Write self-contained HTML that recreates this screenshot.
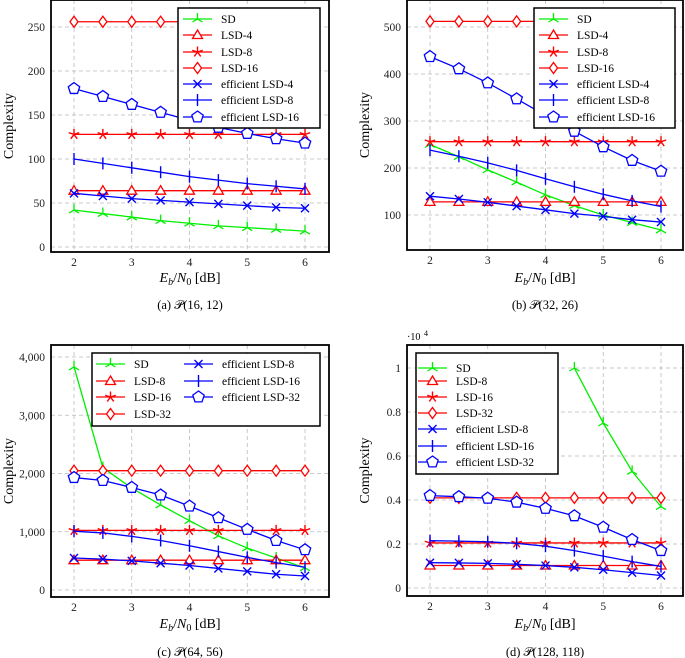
<!DOCTYPE html>
<html><head><meta charset="utf-8"><style>
html,body{margin:0;padding:0;background:#fff;}
svg{display:block;font-family:"Liberation Serif",serif;}
</style></head><body>
<svg id="fig" width="685" height="658" viewBox="0 0 685 658" xmlns="http://www.w3.org/2000/svg"></svg>
<script>
const xValues=[2,2.5,3,3.5,4,4.5,5,5.5,6];
const xTicks=[2,3,4,5,6];
// Panel a
const aSD=[42,38,34,30,27,24,22,20,18];
const aLSD4=[64,64,64,64,64,64,64,64,64];
const aLSD8=[128,128,128,128,128,128,128,128,128];
const aLSD16=[256,256,256,256,256,256,256,256,256];
const aELSD4=[61,58,55,53,51,49,47,45,44];
const aELSD8=[100,95,90,85,80,76,72,69,66];
const aELSD16=[180,171,162,153,144,136,129,123,118];
const aYTicks=[0,50,100,150,200,250];
const aYTickLabels=["0","50","100","150","200","250"];
// Panel b
const bSD=[250,224,196,170,143,120,100,84,68];
const bLSD4=[128,128,128,128,128,128,128,128,128];
const bLSD8=[256,256,256,256,256,256,256,256,256];
const bLSD16=[512,512,512,512,512,512,512,512,512];
const bELSD4=[140,134,127,119,111,103,97,90,85];
const bELSD8=[238,225,211,195,177,160,144,130,118];
const bELSD16=[437,411,381,347,312,278,245,216,193];
const bYTicks=[100,200,300,400,500];
const bYTickLabels=["100","200","300","400","500"];
// Panel c
const cSD=[3830,2100,1750,1460,1190,930,720,550,380];
const cLSD8=[512,512,512,512,512,512,512,512,512];
const cLSD16=[1024,1024,1024,1024,1024,1024,1024,1024,1024];
const cLSD32=[2048,2048,2048,2048,2048,2048,2048,2048,2048];
const cELSD8=[550,530,500,460,420,370,320,270,240];
const cELSD16=[1010,980,920,850,760,660,560,470,390];
const cELSD32=[1930,1880,1760,1630,1440,1240,1040,850,690];
const cYTicks=[0,1000,2000,3000,4000];
const cYTickLabels=["0","1,000","2,000","3,000","4,000"];
// Panel d (x10^4)
const dSD=[null,null,null,null,null,1.0,0.75,0.53,0.37];
const dLSD8=[0.1024,0.1024,0.1024,0.1024,0.1024,0.1024,0.1024,0.1024,0.1024];
const dLSD16=[0.2048,0.2048,0.2048,0.2048,0.2048,0.2048,0.2048,0.2048,0.2048];
const dLSD32=[0.4096,0.4096,0.4096,0.4096,0.4096,0.4096,0.4096,0.4096,0.4096];
const dELSD8=[0.115,0.114,0.112,0.108,0.102,0.094,0.083,0.07,0.057];
const dELSD16=[0.215,0.213,0.21,0.203,0.19,0.17,0.145,0.12,0.098];
const dELSD32=[0.42,0.415,0.408,0.39,0.362,0.328,0.276,0.22,0.17];
const dYTicks=[0,0.2,0.4,0.6,0.8,1];
const dYTickLabels=["0","0.2","0.4","0.6","0.8","1"];

const NS="http://www.w3.org/2000/svg";
const svg=document.getElementById('fig');
function mk(tag,attrs,parent){const e=document.createElementNS(NS,tag);for(const k in attrs)e.setAttribute(k,attrs[k]);(parent||svg).appendChild(e);return e;}
const G='#00ee00',R='#ff0000',B='#0000ff';

function marker(g,type,x,y,c){
  let m;
  if(type==='tri3'){m=mk('path',{d:`M${x},${y}V${y-6}M${x},${y}L${x-5},${y+3}M${x},${y}L${x+5},${y+3}`,stroke:c,'stroke-width':1.3,fill:'none'},g);}
  else if(type==='triangle'){m=mk('path',{d:`M${x},${y-5}L${x+5},${y+3.5}L${x-5},${y+3.5}Z`,stroke:c,'stroke-width':1.3,fill:'#fff'},g);}
  else if(type==='star'){let d='';for(let i=0;i<5;i++){const a=-Math.PI/2+i*2*Math.PI/5;d+=`M${x},${y}L${x+5.5*Math.cos(a)},${y+5.5*Math.sin(a)}`;}m=mk('path',{d,stroke:c,'stroke-width':1.4,fill:'none'},g);}
  else if(type==='diamond'){m=mk('path',{d:`M${x},${y-5.5}L${x+4},${y}L${x},${y+5.5}L${x-4},${y}Z`,stroke:c,'stroke-width':1.3,fill:'#fff'},g);}
  else if(type==='x'){m=mk('path',{d:`M${x-4},${y-4}L${x+4},${y+4}M${x-4},${y+4}L${x+4},${y-4}`,stroke:c,'stroke-width':1.4,fill:'none'},g);}
  else if(type==='plus'){m=mk('path',{d:`M${x},${y-6}V${y+6}`,stroke:c,'stroke-width':1.4,fill:'none'},g);}
  else if(type==='pent'){let d='';for(let i=0;i<5;i++){const a=-Math.PI/2+i*2*Math.PI/5;d+=(i?'L':'M')+(x+6*Math.cos(a))+','+(y+6*Math.sin(a));}m=mk('path',{d:d+'Z',stroke:c,'stroke-width':1.3,fill:'#fff'},g);}
  
  
  return m;
}

function xTitle(g,cx,y){
  const parts=[['E',14,0,'italic'],['b',10,3,'italic'],['/',14,0,'normal'],['N',14,0,'italic'],['0',10,3,'normal'],[' [dB]',14,0,'normal']];
  const xg=mk('g',{},g);
  
  
  let x=0;const els=[];
  parts.forEach(p=>{const t=mk('text',{x:0,y:y+p[2],'font-size':p[1],'font-style':p[3]},xg);t.textContent=p[0];t.style.whiteSpace='pre';els.push(t);});
  const widths=els.map(e=>e.getComputedTextLength());
  const total=widths.reduce((a,b)=>a+b,0);
  x=cx-total/2;
  els.forEach((e,i)=>{e.setAttribute('x',x);x+=widths[i];});
}

function panel(cfg){
  const g=mk('g',{});
  
  
  const {L,Rr,T,Bt,x2,x6,y0px,y0v,y1px,y1v}=cfg;
  const sx=v=>x2+(v-2)*(x6-x2)/4;
  const sy=v=>y0px+(v-y0v)*(y1px-y0px)/(y1v-y0v);
  xTicks.forEach(t=>{const l=mk('line',{x1:sx(t),x2:sx(t),y1:T,y2:Bt,stroke:'#bbb','stroke-dasharray':'4,3','stroke-width':0.8},g);});
  cfg.yTicks.forEach(t=>{const l=mk('line',{x1:L,x2:Rr,y1:sy(t),y2:sy(t),stroke:'#bbb','stroke-dasharray':'4,3','stroke-width':0.8},g);});
  xTicks.forEach(t=>{const e=mk('text',{x:sx(t),y:Bt+14,'text-anchor':'middle','font-size':11.5,fill:'#222'},g);e.textContent=t;});
  cfg.yTicks.forEach((t,i)=>{const e=mk('text',{x:L-6,y:sy(t)+4,'text-anchor':'end','font-size':11.5,fill:'#222'},g);e.textContent=cfg.yLabels[i];});
  const clip='clip-'+cfg.id;
  const cp=mk('clipPath',{id:clip},g);mk('rect',{x:L,y:T,width:Rr-L,height:Bt-T},cp);
  const sg=mk('g',{'clip-path':`url(#${clip})`},g);
  cfg.series.forEach(s=>{
    const pts=[];s.data.forEach((v,i)=>{if(v!==null)pts.push([sx(xValues[i]),sy(v)]);});
    const pl=mk('polyline',{points:pts.map(p=>p.join(',')).join(' '),fill:'none',stroke:s.c,'stroke-width':1.3},sg);
    
    
    pts.forEach(p=>marker(sg,s.m,p[0],p[1],s.c));
  });
  const fr=mk('rect',{x:L,y:T,width:Rr-L,height:Bt-T,fill:'none',stroke:'#000','stroke-width':1.8},g);
  
  const yt=mk('text',{x:0,y:0,transform:`translate(${L-38},${(T+Bt)/2}) rotate(-90)`,'text-anchor':'middle','font-size':14},g);
  yt.textContent='Complexity';
  xTitle(g,(L+Rr)/2,cfg.xlY);
  const cap=mk('text',{x:(L+Rr)/2,y:cfg.capY,'text-anchor':'middle','font-size':12.5},g);
  cap.textContent=`(${cfg.id}) 𝒫(${cfg.cap})`;
  
  const lg=cfg.legend;
  const lb=mk('g',{},g);
  mk('rect',{x:lg.x,y:lg.y,width:lg.w,height:lg.h,fill:'#fff',stroke:'#000','stroke-width':1.5},lb);
  lg.entries.forEach(en=>{
    const s=cfg.series[en.i];
    const eg=mk('g',{},lb);
    mk('line',{x1:en.lx,x2:en.lx+29,y1:en.y,y2:en.y,stroke:s.c,'stroke-width':1.3},eg);
    marker(eg,s.m,en.lx+14.5,en.y,s.c);
    const t=mk('text',{x:en.lx+38,y:en.y+4,'font-size':11.5},eg);t.textContent=s.name;
  });
  if(cfg.exp){
    const e=mk('text',{x:cfg.exp.x,y:cfg.exp.y,'font-size':10},g);e.textContent='·10';
    const e2=mk('text',{x:cfg.exp.x+17,y:cfg.exp.y-4,'font-size':8},g);e2.textContent='4';
  }
}
const rows7=[19,35,52,68,84,100,117];
const S=(n,d,c,m)=>({name:n,data:d,c,m});
panel({id:'a',cap:'16, 12',L:51,Rr:329,T:0,Bt:252,x2:74,x6:305,y0px:247,y0v:0,y1px:27,y1v:250,yTicks:aYTicks,yLabels:aYTickLabels,xlY:282,capY:309,
 series:[S('SD',aSD,G,'tri3'),S('LSD-4',aLSD4,R,'triangle'),S('LSD-8',aLSD8,R,'star'),S('LSD-16',aLSD16,R,'diamond'),S('efficient LSD-4',aELSD4,B,'x'),S('efficient LSD-8',aELSD8,B,'plus'),S('efficient LSD-16',aELSD16,B,'pent')],
 legend:{x:178,y:8,w:142,h:120,entries:rows7.map((y,i)=>({i,y,lx:183}))}});
panel({id:'b',cap:'32, 26',L:407,Rr:683,T:0,Bt:250,x2:430,x6:661,y0px:215,y0v:100,y1px:27,y1v:500,yTicks:bYTicks,yLabels:bYTickLabels,xlY:282,capY:309,
 series:[S('SD',bSD,G,'tri3'),S('LSD-4',bLSD4,R,'triangle'),S('LSD-8',bLSD8,R,'star'),S('LSD-16',bLSD16,R,'diamond'),S('efficient LSD-4',bELSD4,B,'x'),S('efficient LSD-8',bELSD8,B,'plus'),S('efficient LSD-16',bELSD16,B,'pent')],
 legend:{x:534,y:8,w:141,h:120,entries:rows7.map((y,i)=>({i,y,lx:539}))}});
const rc=[364,381,397,414];
panel({id:'c',cap:'64, 56',L:51,Rr:329,T:345,Bt:597,x2:74,x6:305,y0px:590,y0v:0,y1px:357,y1v:4000,yTicks:cYTicks,yLabels:cYTickLabels,xlY:628,capY:656,
 series:[S('SD',cSD,G,'tri3'),S('LSD-8',cLSD8,R,'triangle'),S('LSD-16',cLSD16,R,'star'),S('LSD-32',cLSD32,R,'diamond'),S('efficient LSD-8',cELSD8,B,'x'),S('efficient LSD-16',cELSD16,B,'plus'),S('efficient LSD-32',cELSD32,B,'pent')],
 legend:{x:92,y:353,w:228,h:73,entries:[0,1,2,3].map(i=>({i,y:rc[i],lx:96})).concat([4,5,6].map((i,k)=>({i,y:rc[k],lx:184})))}});
const rd=[368,381,397,413,429,446,462];
panel({id:'d',cap:'128, 118',L:407,Rr:683,T:345,Bt:596,x2:430,x6:661,y0px:588,y0v:0,y1px:368,y1v:1,yTicks:dYTicks,yLabels:dYTickLabels,xlY:628,capY:656,exp:{x:407,y:340},
 series:[S('SD',dSD,G,'tri3'),S('LSD-8',dLSD8,R,'triangle'),S('LSD-16',dLSD16,R,'star'),S('LSD-32',dLSD32,R,'diamond'),S('efficient LSD-8',dELSD8,B,'x'),S('efficient LSD-16',dELSD16,B,'plus'),S('efficient LSD-32',dELSD32,B,'pent')],
 legend:{x:416,y:353,w:142,h:121,entries:rd.map((y,i)=>({i,y,lx:418}))}});
</script>
</body></html>
